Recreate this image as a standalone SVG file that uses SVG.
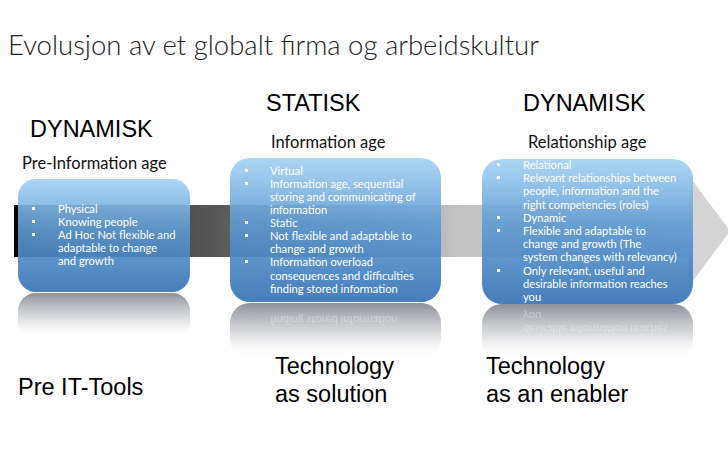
<svg xmlns="http://www.w3.org/2000/svg" width="728" height="454" viewBox="0 0 728 454">
<defs>
<linearGradient id="band" x1="14" y1="0" x2="728" y2="0" gradientUnits="userSpaceOnUse">
<stop offset="0" stop-color="#000"/>
<stop offset="0.04" stop-color="#2a2a2a"/>
<stop offset="0.28" stop-color="#575757"/>
<stop offset="0.62" stop-color="#c2c2c2"/>
<stop offset="1" stop-color="#d6d6d6"/>
</linearGradient>
<linearGradient id="box" x1="0" y1="0" x2="0" y2="1">
<stop offset="0" stop-color="#a4d2f3"/>
<stop offset="0.45" stop-color="#5e9ad3"/>
<stop offset="1" stop-color="#3370b4"/>
</linearGradient>
<linearGradient id="refl" x1="0" y1="0" x2="0" y2="1">
<stop offset="0" stop-color="#8c9097" stop-opacity="1"/>
<stop offset="0.5" stop-color="#c4c6ca" stop-opacity="0.7"/>
<stop offset="1" stop-color="#ffffff" stop-opacity="0"/>
</linearGradient>
<style>
.ttl{font-family:Lato,"Open Sans",sans-serif;font-weight:300;font-size:27.5px;fill:#222}
.hd{font-family:"Liberation Sans",Arial,sans-serif;font-size:23.5px;fill:#000}
.sub{font-family:Lato,"Open Sans",sans-serif;font-size:16.5px;fill:#111}
.bt{font-family:Lato,"Open Sans",sans-serif;font-size:11.2px;fill:#fff}
.rt{font-family:Lato,"Open Sans",sans-serif;font-size:11.2px;fill:#fff;opacity:0.35}
.bul{fill:#fff}
.bx{fill:url(#box);opacity:0.9}
.rf{fill:url(#refl)}
</style>
</defs>
<rect width="728" height="454" fill="#fff"/>
<text class="ttl" x="8" y="55">Evolusjon av et globalt firma og arbeidskultur</text>

<g id="arrow">
<rect x="14" y="205" width="680" height="52" fill="url(#band)"/>
<polygon points="689,176 730,231 689,286" fill="#d4d4d4"/>
</g>

<g id="col1">
<text class="hd" x="30" y="137">DYNAMISK</text>
<text class="sub" x="22" y="169">Pre-Information age</text>
<rect class="rf" x="18" y="293" width="172" height="46" rx="18"/>
<rect class="bx" x="18" y="179" width="172" height="113" rx="18"/>
<g class="bul"><rect x="32" y="207" width="3" height="3"/><rect x="32" y="220" width="3" height="3"/><rect x="32" y="233" width="3" height="3"/></g>
<text class="bt" x="58" y="213">Physical</text>
<text class="bt" x="58" y="226">Knowing people</text>
<text class="bt" x="58" y="239">Ad Hoc Not flexible and</text>
<text class="bt" x="58" y="252">adaptable to change</text>
<text class="bt" x="58" y="265">and growth</text>
<text class="hd" x="18" y="395">Pre IT-Tools</text>
</g>

<g id="col2">
<text class="hd" x="266" y="111">STATISK</text>
<text class="sub" x="271" y="148">Information age</text>
<rect class="rf" x="230" y="303" width="211" height="56" rx="20"/>
<text class="rt" transform="translate(0,609) scale(1,-1)" x="270" y="293">finding stored information</text>
<rect class="bx" x="230" y="158" width="211" height="144" rx="20"/>
<g class="bul"><rect x="245" y="169" width="3" height="3"/><rect x="245" y="182" width="3" height="3"/><rect x="245" y="221" width="3" height="3"/><rect x="245" y="234" width="3" height="3"/><rect x="245" y="260" width="3" height="3"/></g>
<text class="bt" x="270" y="175">Virtual</text>
<text class="bt" x="270" y="188">Information age, sequential</text>
<text class="bt" x="270" y="201">storing and communicating of</text>
<text class="bt" x="270" y="214">information</text>
<text class="bt" x="270" y="227">Static</text>
<text class="bt" x="270" y="240">Not flexible and adaptable to</text>
<text class="bt" x="270" y="253">change and growth</text>
<text class="bt" x="270" y="266">Information overload</text>
<text class="bt" x="270" y="280">consequences and difficulties</text>
<text class="bt" x="270" y="293">finding stored information</text>
<text class="hd" x="275" y="374">Technology</text>
<text class="hd" x="275" y="402">as solution</text>
</g>

<g id="col3">
<text class="hd" x="523" y="111">DYNAMISK</text>
<text class="sub" x="528" y="148">Relationship age</text>
<rect class="rf" x="482" y="304" width="211" height="56" rx="20"/>
<text class="rt" transform="translate(0,609) scale(1,-1)" x="523" y="297">you</text>
<text class="rt" transform="translate(0,609) scale(1,-1)" x="523" y="284">desirable information reaches</text>
<rect class="bx" x="482" y="159" width="211" height="145" rx="20"/>
<g class="bul"><rect x="497" y="163" width="3" height="3"/><rect x="497" y="176" width="3" height="3"/><rect x="497" y="216" width="3" height="3"/><rect x="497" y="229" width="3" height="3"/><rect x="497" y="269" width="3" height="3"/></g>
<text class="bt" x="523" y="169">Relational</text>
<text class="bt" x="523" y="182">Relevant relationships between</text>
<text class="bt" x="523" y="195">people, information and the</text>
<text class="bt" x="523" y="209">right competencies (roles)</text>
<text class="bt" x="523" y="222">Dynamic</text>
<text class="bt" x="523" y="235">Flexible and adaptable to</text>
<text class="bt" x="523" y="248">change and growth  (The</text>
<text class="bt" x="523" y="261">system changes with relevancy)</text>
<text class="bt" x="523" y="275">Only relevant, useful and</text>
<text class="bt" x="523" y="288">desirable information reaches</text>
<text class="bt" x="523" y="301">you</text>
<text class="hd" x="486" y="374">Technology</text>
<text class="hd" x="486" y="402">as an enabler</text>
</g>
</svg>
